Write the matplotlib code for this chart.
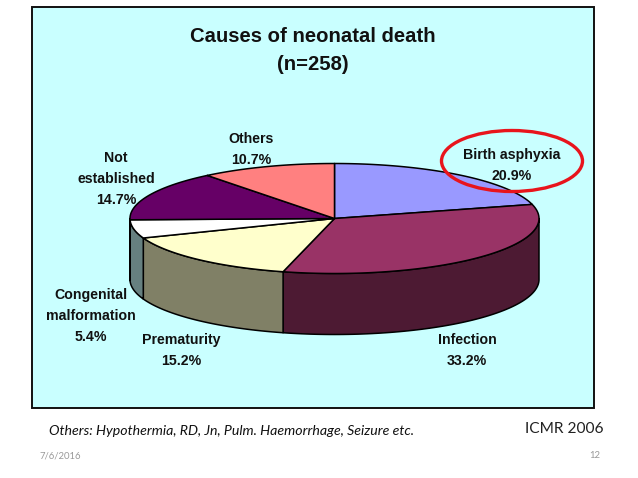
import numpy as np
import matplotlib
matplotlib.use('Agg')
import matplotlib.pyplot as plt
from matplotlib.patches import Ellipse, Polygon, Rectangle

# Datos del grafico
labels = ['Birth asphyxia', 'Infection', 'Prematurity', 'Congenital\nmalformation', 'Not\nestablished', 'Others']
values = [20.9, 33.2, 15.2, 5.4, 14.7, 10.7]
colors = ['#9999FF', '#993366', '#FFFFCC', '#FFFFFF', '#660066', '#FF8080']
side_colors = ['#4D4D80', '#4D1A33', '#808066', '#668080', '#330033', '#804040']

# Geometria del pastel en pixeles
cx, cy = 334.5, 218.5
rx, ry = 204.5, 55
depth = 61
label_pos = [(512, 176), (467, 361), (181, 361), (91, 337), (116, 200), (251, 160)]
line_gap = 21

fig = plt.figure(figsize=(6.38, 4.78), dpi=100)
ax = fig.add_axes([0, 0, 1, 1])
ax.set_xlim(0, 638)
ax.set_ylim(478, 0)
ax.axis('off')

ax.add_patch(Rectangle((32, 7), 562, 401, facecolor='#C9FFFF', edgecolor='#111111', linewidth=1.4))


def ellipse_xy(a, y0=cy):
    # angulo en grados, en sentido horario desde las 12
    t = np.radians(a)
    return cx + rx * np.sin(t), y0 - ry * np.cos(t)


# Bordes de cada porcion a partir de los porcentajes
edges = np.cumsum([0] + values) / sum(values) * 360

# Pared lateral: solo la parte del frente (90 a 270 grados)
for i in range(len(values)):
    a0 = max(edges[i], 90)
    a1 = min(edges[i + 1], 270)
    if a1 <= a0:
        continue
    arc = np.linspace(a0, a1, 80)
    x, y = ellipse_xy(arc)
    pts = np.r_[np.c_[x, y], np.c_[x[::-1], y[::-1] + depth]]
    ax.add_patch(Polygon(pts, closed=True, facecolor=side_colors[i], edgecolor='black', linewidth=1.1, joinstyle='round'))

# Cara superior
for i in range(len(values)):
    arc = np.linspace(edges[i], edges[i + 1], 120)
    x, y = ellipse_xy(arc)
    pts = np.r_[[[cx, cy]], np.c_[x, y]]
    ax.add_patch(Polygon(pts, closed=True, facecolor=colors[i], edgecolor='black', linewidth=1.1, joinstyle='round'))

# Etiquetas
for i in range(len(values)):
    text = labels[i].split('\n') + [f'{values[i]}%']
    x, y_last = label_pos[i]
    for j, line in enumerate(text):
        ax.text(x, y_last - line_gap * (len(text) - 1 - j), line, ha='center', va='center',
                family='Liberation Sans', weight='bold', fontsize=10.2, color='#111111')

# Titulo
ax.text(313, 36, 'Causes of neonatal death', ha='center', va='center', family='Liberation Sans',
        weight='bold', fontsize=14.6, color='#111111')
ax.text(313, 64, '(n=258)', ha='center', va='center', family='Liberation Sans',
        weight='bold', fontsize=14.6, color='#111111')

# Ovalo rojo
ax.add_patch(Ellipse((512, 161), 141, 61, angle=0, facecolor='none', edgecolor='#E8141C', linewidth=2.4))

# Notas al pie
ax.text(49, 431, 'Others: Hypothermia, RD, Jn, Pulm. Haemorrhage, Seizure etc.', ha='left', va='center',
        family='Lato', style='italic', fontsize=10.2, color='#111111')
ax.text(525, 429, 'ICMR 2006', ha='left', va='center', family='Lato', fontsize=11.2, color='#222222')
ax.text(39, 456, '7/6/2016', ha='left', va='center', family='Lato', fontsize=6.8, color='#999999')
ax.text(600, 456, '12', ha='right', va='center', family='Lato', fontsize=6.8, color='#999999')

plt.savefig('out.png', dpi=100)
